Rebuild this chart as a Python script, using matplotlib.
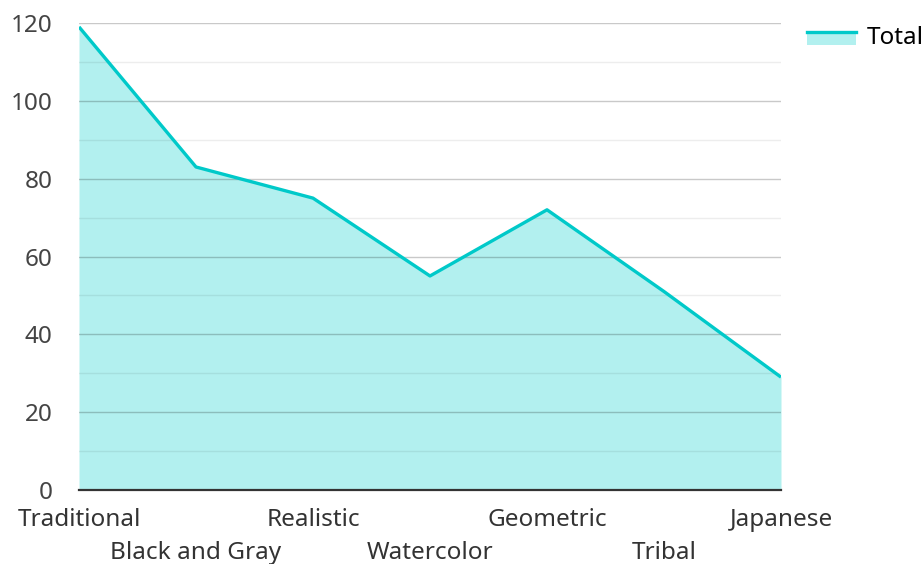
import matplotlib.pyplot as plt
from matplotlib.lines import Line2D
from matplotlib.patches import Rectangle
from matplotlib.legend_handler import HandlerBase

styles = ['Traditional', 'Black and Gray', 'Realistic', 'Watercolor',
          'Geometric', 'Tribal', 'Japanese']
totals = [119, 83, 75, 55, 72, 51, 29]

line_color = '#00c9c9'
fill_color = '#b2f0ef'


class AreaHandler(HandlerBase):
    # line sitting on top of a filled block, like the legend in the original
    def create_artists(self, legend, orig, x0, y0, width, height, fontsize, trans):
        top = y0 + height * 0.7
        bot = y0 - height * 0.05
        rect = Rectangle((x0, bot), width, top - bot,
                         facecolor=fill_color, edgecolor='none', transform=trans)
        ln = Line2D([x0, x0 + width], [top, top], color=line_color, lw=2.4,
                    transform=trans)
        return [rect, ln]


plt.rcParams['font.family'] = ['Noto Sans', 'DejaVu Sans']
fs = 17.5

fig = plt.figure(figsize=(9.23, 5.64), dpi=100)
ax = fig.add_axes([79 / 923, 74 / 564, 702 / 923, 467 / 564])

x = list(range(len(styles)))
ax.fill_between(x, totals, 0, color=fill_color, lw=0, zorder=1)
ax.plot(x, totals, color=line_color, lw=2.4, zorder=3, solid_capstyle='butt')

ax.set_xlim(0, len(styles) - 1)
ax.set_ylim(0, 120)

ax.set_yticks(range(0, 121, 20))
ax.set_yticks(range(10, 121, 20), minor=True)
ax.grid(True, which='major', axis='y', color='black', alpha=0.21, lw=1, zorder=2)
ax.grid(True, which='minor', axis='y', color='black', alpha=0.07, lw=1, zorder=2)
ax.set_axisbelow(False)

ax.set_xticks(x[0::2], styles[0::2])
ax.set_xticks(x[1::2], styles[1::2], minor=True)

for s in ['left', 'right', 'top']:
    ax.spines[s].set_visible(False)
ax.spines['bottom'].set_color('#333333')
ax.spines['bottom'].set_linewidth(1.6)
ax.spines['bottom'].set_zorder(4)

ax.tick_params(axis='y', which='both', length=0, pad=19, labelsize=fs,
               labelcolor='#444444')
ax.tick_params(axis='x', which='major', length=0, pad=13, labelsize=fs,
               labelcolor='#333333')
ax.tick_params(axis='x', which='minor', length=0, pad=37, labelsize=fs,
               labelcolor='#333333')

ax.legend([Rectangle((0, 0), 1, 1)], ['Total'], handler_map={Rectangle: AreaHandler()},
          loc='upper left', bbox_to_anchor=(807 / 923, 1 - 26 / 564),
          bbox_transform=fig.transFigure, frameon=False, fontsize=fs,
          handlelength=2.0, handletextpad=0.45, borderaxespad=0, borderpad=0)

fig.savefig('out.png', dpi=100)
